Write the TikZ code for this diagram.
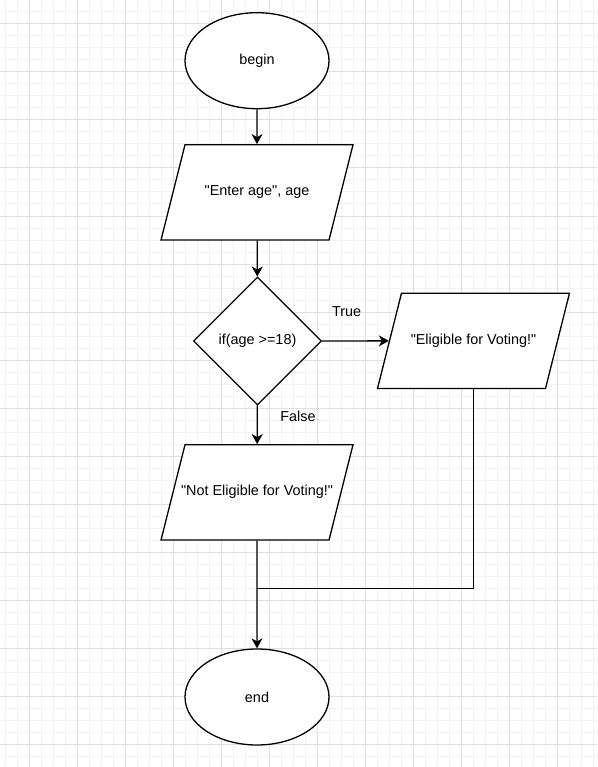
\documentclass[tikz,border=0pt]{standalone}
\usepackage{fontspec}
\setmainfont{Liberation Sans}
\usepackage{xcolor}
\usepackage{tikz}
\usetikzlibrary{shapes.geometric, arrows.meta}
\definecolor{gridmin}{RGB}{243,243,243}
\definecolor{gridmaj}{RGB}{224,224,224}
\newcommand{\iobox}[1]{\makebox[144pt]{#1}}

\begin{document}
\begin{tikzpicture}[x=1pt, y=-1pt, line width=1.3pt, line join=miter,
  font=\fontsize{14.4}{17}\selectfont,
  minorline/.style={gridmin, line width=1pt},
  majorline/.style={gridmaj, line width=1pt},
  terminal/.style={draw, ellipse, fill=white, inner sep=0pt, minimum width=144, minimum height=96},
  io/.style={draw, trapezium, trapezium left angle=75.87, trapezium right angle=104.13,
    fill=white, text height=10pt, text depth=3pt, inner xsep=0pt, inner ysep=41.15pt},
  decision/.style={draw, diamond, fill=white, inner sep=0pt, minimum width=128, minimum height=128},
  flow/.style={-{Stealth[length=10pt, width=11pt, inset=3pt]}},
  lbl/.style={inner sep=1pt}]

%% background and grid
\fill[white] (0,0) rectangle (597,767);
\useasboundingbox (0,0) rectangle (597,767);
\foreach \k in {0,...,49} \draw[minorline] ({5.33+12*\k},0) -- ({5.33+12*\k},767);
\foreach \k in {0,...,64} \draw[minorline] (0,{12*\k}) -- (597,{12*\k});
\foreach \k in {0,...,11} \draw[majorline] ({29.33+48*\k},0) -- ({29.33+48*\k},767);
\foreach \k in {0,...,15} \draw[majorline] (0,{24+48*\k}) -- (597,{24+48*\k});

%% blocks -- top to bottom
\node[terminal] (begin) at (257,60.7) {begin};
\node[io] (enter) at (257,192.4) {\iobox{\textquotedbl Enter age\textquotedbl, age}};
\node[decision] (check) at (257.5,341) {if(age >=18)};
\node[io] (eligible) at (473.5,340.8) {\iobox{\textquotedbl Eligible for Voting!\textquotedbl}};
\node[io] (noteligible) at (257,492.4) {\iobox{\textquotedbl Not Eligible for Voting!\textquotedbl}};
\node[terminal] (end) at (257,697) {end};

%% branch labels
\node[lbl] (truelbl) at (346.7,312) {True};
\node[lbl] (falselbl) at (298,416.7) {False};

%% join point
\coordinate (merge) at (257,588.3);

%% connectors
\draw[flow] (begin) -- (enter);
\draw[flow] (enter) -- (check);
\draw[flow] (check) -- (eligible);
\draw[flow] (check) -- (noteligible);
\draw[flow] (noteligible) -- (end);
\draw (eligible) |- (merge);

\end{tikzpicture}
\end{document}
